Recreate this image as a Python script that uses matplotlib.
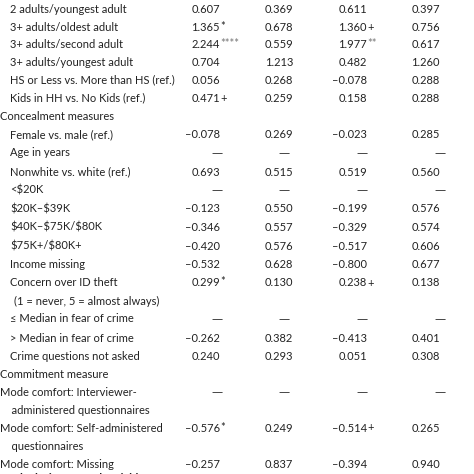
import matplotlib
matplotlib.use("Agg")
import matplotlib.pyplot as plt
plt.rcParams["text.parse_math"] = False

labels = ["2 adults/youngest adult", "3+ adults/oldest adult", "3+ adults/second adult",
          "3+ adults/youngest adult", "HS or Less vs. More than HS (ref.)", "Kids in HH vs. No Kids (ref.)",
          "Concealment measures", "Female vs. male (ref.)", "Age in years", "Nonwhite vs. white (ref.)",
          "<$20K", "$20K–$39K", "$40K–$75K/$80K", "$75K+/$80K+", "Income missing",
          "Concern over ID theft", "(1 = never, 5 = almost always)", "≤ Median in fear of crime",
          "> Median in fear of crime", "Crime questions not asked", "Commitment measure",
          "Mode comfort: Interviewer-\n    administered questionnaires",
          "Mode comfort: Self-administered\n    questionnaires",
          "Mode comfort: Missing", "Study design control variables"]
indent = [1,1,1,1,1,1,0,1,1,1,1,1,1,1,1,1,2,1,1,1,0,0,0,0,0]
y_px = [9,27,44,62,80,98,116,135,153,172,190,209,227,246,264,283,301,319,338,356,374,392,428,465,478]
col1 = ["0.607","1.365*","2.244****","0.704","0.056","0.471+","","–0.078","—","0.693","—","–0.123","–0.346","–0.420","–0.532","0.299*","","—","–0.262","0.240","","—","–0.576*","–0.257",""]
col2 = ["0.369","0.678","0.559","1.213","0.268","0.259","","0.269","—","0.515","—","0.550","0.557","0.576","0.628","0.130","","—","0.382","0.293","","—","0.249","0.837",""]
col3 = ["0.611","1.360+","1.977**","0.482","–0.078","0.158","","–0.023","—","0.519","—","–0.199","–0.329","–0.517","–0.800","0.238+","","—","–0.413","0.051","","—","–0.514+","–0.394",""]
col4 = ["0.397","0.756","0.617","1.260","0.288","0.288","","0.285","—","0.560","—","0.576","0.574","0.606","0.677","0.138","","—","0.401","0.308","","—","0.265","0.940",""]

W = H = 474
fig = plt.figure(figsize=(4.74, 4.74), dpi=100)
ax = fig.add_axes([0, 0, 1, 1])
ax.set_xlim(0, W); ax.set_ylim(H, 0); ax.axis("off")
fam = ["Lato", "DejaVu Sans"]
fs = 8.0
col = "#222222"
num_end = [220, 293, 367, 440]
dash_c = [217, 284, 362, 440]
ind_x = [0, 10, 14]
for i, lab in enumerate(labels):
    y = y_px[i]
    weight = "bold" if i == len(labels) - 1 else "normal"
    multi = "\n" in lab
    ax.text(ind_x[indent[i]], y - 5 if multi else y, lab, fontsize=fs, family=fam, color=col,
            va="top" if multi else "center", ha="left", linespacing=1.75, weight=weight)
    yy = y
    for j, c in enumerate([col1, col2, col3, col4]):
        v = c[i]
        if not v:
            continue
        if v == "—":
            ax.text(dash_c[j], yy, "—", fontsize=fs, family=["DejaVu Sans"], color=col, ha="center", va="center")
            continue
        base = v.rstrip("*+")
        suf = v[len(base):]
        ax.text(num_end[j], yy, base, fontsize=fs, family=fam, color=col, ha="right", va="center")
        if suf:
            star = "*" in suf
            ax.text(num_end[j] + 0.5, yy - (1 if star else 0), suf, fontsize=fs,
                    family=fam, color="#777777" if star and len(suf) > 1 else col, ha="left", va="center")
fig.savefig("out.png", dpi=100)
